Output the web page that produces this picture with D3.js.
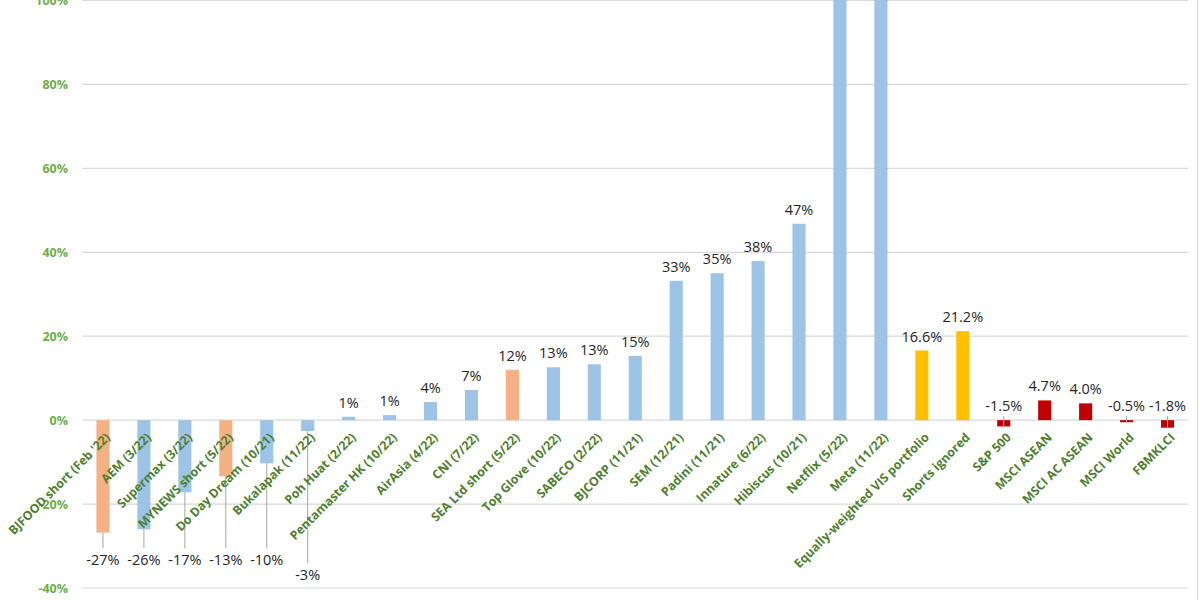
<!DOCTYPE html>
<html><head><meta charset="utf-8">
<script src="https://cdn.jsdelivr.net/npm/d3@7"></script>
<style>
html,body{margin:0;padding:0;background:#fff;}
svg{display:block;}
</style></head>
<body>
<svg id="chart" width="1200" height="600"></svg>
<script>
const categories = ["BJFOOD short (Feb '22)","AEM (3/22)","Supermax (3/22)","MYNEWS short (5/22)","Do Day Dream (10/21)","Bukalapak (11/22)","Poh Huat (2/22)","Pentamaster HK (10/22)","AirAsia (4/22)","CNI (7/22)","SEA Ltd short (5/22)","Top Glove (10/22)","SABECO (2/22)","BJCORP (11/21)","SEM (12/21)","Padini (11/21)","Innature (6/22)","Hibiscus (10/21)","Netflix (5/22)","Meta (11/22)","Equally-weighted VIS portfolio","Shorts ignored","S&P 500","MSCI ASEAN","MSCI AC ASEAN","MSCI World","FBMKLCI"];
const values = [-26.8,-26.0,-17.2,-13.4,-10.3,-2.6,0.8,1.2,4.3,7.2,12.0,12.6,13.3,15.3,33.2,35.0,37.9,46.8,130,140,16.6,21.2,-1.5,4.7,4.0,-0.5,-1.8];
const groups = ["short","long","long","short","long","long","long","long","long","long","short","long","long","long","long","long","long","long","long","long","portfolio","portfolio","index","index","index","index","index"];
const labelDecimals = [0,0,0,0,0,0,0,0,0,0,0,0,0,0,0,0,0,0,0,0,1,1,1,1,1,1,1];
// where a moved data label sits (in % units); null = default position
const labelAt = [-33.4,-33.4,-33.4,-33.4,-33.4,-37.0,null,null,null,null,null,null,null,null,null,null,null,null,null,null,null,null,0,null,null,0,0];
const yTicks = [-40,-20,0,20,40,60,80,100];
const colors = {short:"#F4B183", long:"#9DC3E6", portfolio:"#FFC000", index:"#C00000"};

const svg = d3.select("#chart");
const mLeft = 82.5, mRight = 1188, mTop = 0.5, mBottom = 588;
const x = d3.scaleBand().domain(categories).range([mLeft, mRight]).paddingInner(0.68).paddingOuter(0.34);
const y = d3.scaleLinear().domain([-40, 100]).range([mBottom, mTop]);

svg.append("defs").append("clipPath").attr("id","clip")
  .append("rect").attr("x",0).attr("y",0).attr("width",1200).attr("height",600);

// gridlines
svg.append("g").selectAll("line").data(yTicks).join("line")
  .attr("x1", mLeft).attr("x2", mRight)
  .attr("y1", d => y(d)).attr("y2", d => y(d))
  .attr("stroke", "#D9D9D9").attr("stroke-width", 1.2);

// right border
svg.append("line").attr("x1",1197.5).attr("x2",1197.5).attr("y1",0).attr("y2",600)
  .attr("stroke","#D9D9D9").attr("stroke-width",1);

// y axis labels
const yAxis = d3.axisLeft(y).tickValues(yTicks).tickFormat(d => d + "%").tickSize(0).tickPadding(0);
const gy = svg.append("g").attr("transform", "translate(68,0)").call(yAxis);
gy.select(".domain").remove();
gy.selectAll("text").attr("fill","#70AD47").attr("font-family","'Open Sans', sans-serif")
  .attr("font-weight","bold").attr("font-size","12.5px");

const data = categories.map((c,i)=>({c, v: values[i], g: groups[i], dec: labelDecimals[i], at: labelAt[i]}));

const plot = svg.append("g").attr("clip-path","url(#clip)");

// bars
plot.selectAll("rect.bar").data(data).join("rect").attr("class","bar")
  .attr("x", d => x(d.c)).attr("width", x.bandwidth())
  .attr("y", d => y(Math.max(0, d.v))).attr("height", d => Math.abs(y(d.v) - y(0)))
  .attr("fill", d => colors[d.g]);

// leader lines
plot.selectAll("line.leader").data(data.filter(d => d.at !== null)).join("line").attr("class","leader")
  .attr("x1", d => x(d.c) + x.bandwidth()/2).attr("x2", d => x(d.c) + x.bandwidth()/2)
  .attr("y1", d => y(d.v))
  .attr("y2", d => d.at < 0 ? y(d.at) - 12 : y(0) - 4)
  .attr("stroke", "#A6A6A6").attr("stroke-width", 1);

// data labels
plot.selectAll("text.val").data(data.filter(d => d.v <= 100)).join("text").attr("class","val")
  .attr("x", d => x(d.c) + x.bandwidth()/2)
  .attr("y", d => d.at === null ? y(d.v) - 14 : (d.at < 0 ? y(d.at) : y(d.at) - 14))
  .attr("dy","0.35em")
  .attr("text-anchor","middle")
  .attr("font-family","'Open Sans', sans-serif").attr("font-size","14.5px").attr("fill","#262626")
  .text(d => d.v.toFixed(d.dec) + "%");

// category labels
const gx = svg.append("g").attr("transform", `translate(0,${y(0)})`)
  .call(d3.axisBottom(x).tickSize(0).tickPadding(0));
gx.select(".domain").remove();
gx.selectAll("text")
  .attr("text-anchor","end")
  .attr("font-family","'Open Sans', sans-serif").attr("font-weight","bold").attr("font-size","12.3px")
  .attr("fill","#4E7F2E")
  .attr("transform","translate(5,15) rotate(-45)")
  .attr("dy","0.35em").attr("y",0).attr("x",0);
</script>
</body></html>
